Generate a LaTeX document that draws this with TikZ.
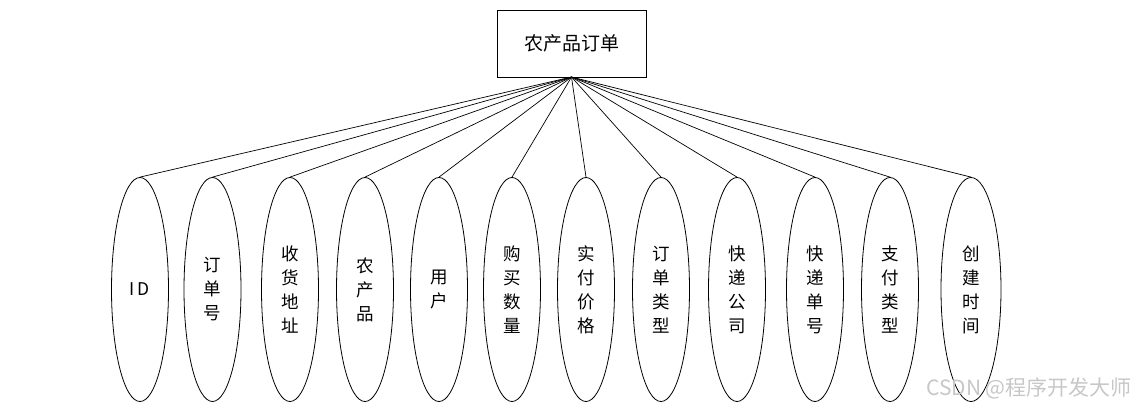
\documentclass[tikz,border=0pt]{standalone}
\usepackage{fontspec}
\setmainfont{Noto Sans CJK SC}
\newfontfamily\wmfont{Noto Sans CJK SC}
\usetikzlibrary{shapes.geometric}
\begin{document}
\begin{tikzpicture}[x=1pt,y=-1pt,
  attr/.style={draw,ellipse,line width=0.8pt,minimum width=57pt,minimum height=224pt,inner sep=0pt,
    font=\fontsize{17.5}{24}\selectfont,align=center},
  ent/.style={draw,rectangle,line width=0.8pt,minimum width=149pt,minimum height=67pt,font=\fontsize{19}{22}\selectfont},
  link/.style={line width=0.7pt}]
\useasboundingbox (0,0) rectangle (1138,410);
\node[ent] (e) at (571.5,43.5) {农产品订单};
\coordinate (hub) at (571.5,77);
\node[attr] (a1) at (140,289.5) {I\,D};
\node[attr] (a2) at (212.5,289.5) {订\\单\\号};
\node[attr] (a3) at (290,289.5) {收\\货\\地\\址};
\node[attr] (a4) at (365,289.5) {农\\产\\品};
\node[attr] (a5) at (439,289.5) {用\\户};
\node[attr] (a6) at (512,289.5) {购\\买\\数\\量};
\node[attr] (a7) at (586,289.5) {实\\付\\价\\格};
\node[attr] (a8) at (661,289.5) {订\\单\\类\\型};
\node[attr] (a9) at (737,289.5) {快\\递\\公\\司};
\node[attr] (a10) at (815,289.5) {快\\递\\单\\号};
\node[attr] (a11) at (890,289.5) {支\\付\\类\\型};
\node[attr,minimum width=60pt] (a12) at (971,289.5) {创\\建\\时\\间};
\foreach \i in {1,...,12} \draw[link] (hub) -- (a\i.north);
\node[text=black!22,font=\wmfont\fontsize{21}{24}\selectfont,anchor=east,inner sep=0pt] (wm) at (1132,388) {CSDN @程序开发大师};
\end{tikzpicture}
\end{document}
